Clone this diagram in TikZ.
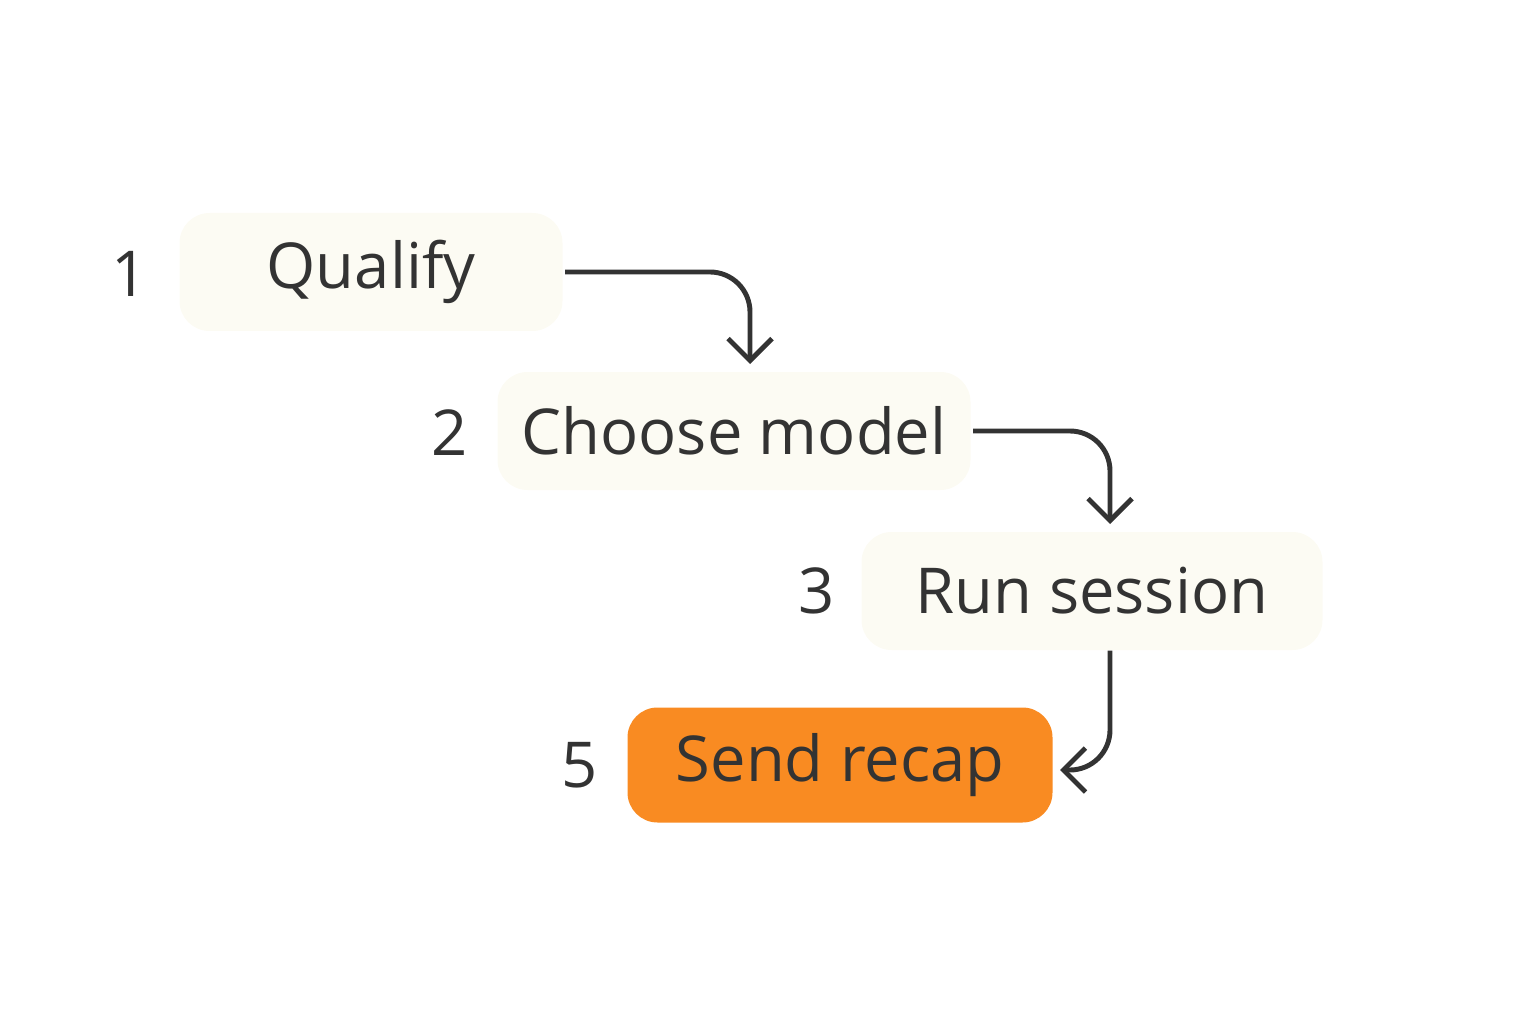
\documentclass[tikz,border=0pt]{standalone}
\usepackage{fontspec}
\setmainfont{Open Sans}
\usetikzlibrary{arrows.meta}
\definecolor{cream}{HTML}{FCFBF3}
\definecolor{recap}{HTML}{F98B22}
\definecolor{ink}{HTML}{333333}
\tikzset{
  stage/.style={rounded corners=0.3cm, fill=cream, text=ink, minimum height=1.18cm, font=\fontsize{18}{20}\selectfont},
  num/.style={text=ink, font=\fontsize{18}{20}\selectfont},
  flow/.style={draw=ink, line width=1.4pt, rounded corners=0.4cm, -{Straight Barb[length=2.2mm,width=4.4mm]}}
}
\begin{document}
\begin{tikzpicture}
            \useasboundingbox (0,0) rectangle (15.36,10.24);
            % Steps
            \node[stage, minimum width=3.83cm] (qualify) at (3.71,7.52) {Qualify};
            \node[stage, minimum width=4.73cm] (choose) at (7.34,5.93) {Choose model};
            \node[stage, minimum width=4.61cm] (run) at (10.92,4.33) {Run session};
            \node[stage, minimum width=4.25cm, minimum height=1.15cm, fill=recap] (recap) at (8.40,2.59) {Send recap};

            % Numbers
            \node[num] (n1) at (1.30,7.50) {1};
            \node[num] (n2) at (4.50,5.91) {2};
            \node[num] (n3) at (8.17,4.33) {3};
            \node[num] (n5) at (5.80,2.59) {5};

            % Arrow ends
            \coordinate (a1) at (7.50,6.60);
            \coordinate (a2) at (11.10,5.00);
            \coordinate (a3) at (10.60,2.54);

            \draw[flow] ([xshift=0.02cm]qualify.east) -| (a1);
            \draw[flow] ([xshift=0.02cm]choose.east) -| (a2);
            \draw[flow] (run.south -| a2) |- (a3);
        \end{tikzpicture}
\end{document}
